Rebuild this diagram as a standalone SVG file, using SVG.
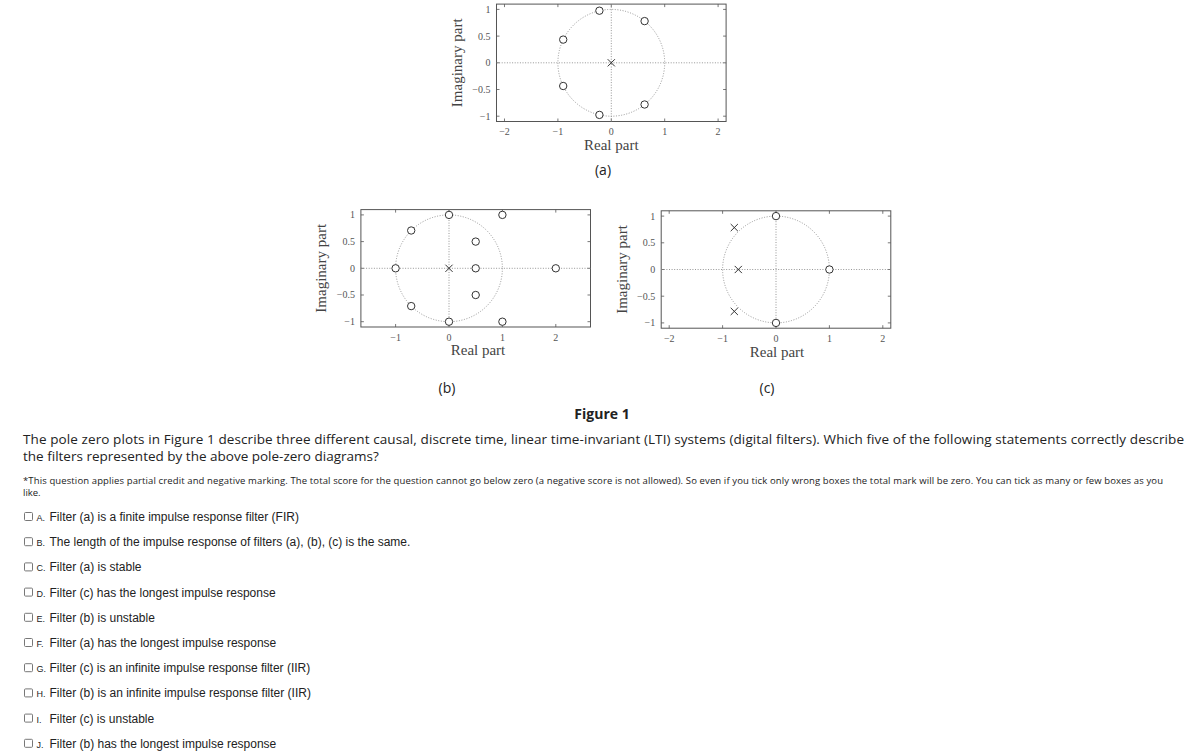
<svg xmlns="http://www.w3.org/2000/svg" width="1201" height="753" viewBox="0 0 1201 753">
<style>
.frame{fill:none;stroke:#555;stroke-width:1}
.tick{stroke:#555;stroke-width:0.8}
.grid{fill:none;stroke:#8a8a8a;stroke-width:0.9;stroke-dasharray:1 1.6}
.zero{fill:#fff;stroke:#333;stroke-width:1}
.pole{stroke:#333;stroke-width:1;fill:none}
.tl{font-family:"Liberation Serif",serif;font-size:10px;fill:#555}
.tly{font-family:"Liberation Serif",serif;font-size:10px;fill:#555;text-anchor:end}
.axl{font-family:"Liberation Serif",serif;font-size:15px;fill:#444;text-anchor:middle}
.cap{font-family:"Open Sans",sans-serif;font-size:14px;fill:#222;text-anchor:middle}
.fig{font-family:"Open Sans",sans-serif;font-size:14px;font-weight:bold;fill:#222;text-anchor:middle}
.para{font-family:"Open Sans",sans-serif;font-size:13.5px;fill:#222}
.small{font-family:"Open Sans",sans-serif;font-size:9.5px;fill:#222}
.opt{font-family:"Liberation Sans",Arial,sans-serif;font-size:12px;fill:#222}
.let{font-family:"Liberation Sans",Arial,sans-serif;font-size:9px;fill:#222}
.box{fill:#fff;stroke:#777;stroke-width:1}
</style>
<defs>
<circle id="z" r="3.7" class="zero"/>
<path id="p" d="M-3.6,-3.6L3.6,3.6M-3.6,3.6L3.6,-3.6" class="pole"/>
<g id="yt">
<text class="tly" x="-120.8" y="-49.9">1</text>
<text class="tly" x="-120.8" y="-23.2">0.5</text>
<text class="tly" x="-120.8" y="3.5">0</text>
<text class="tly" x="-120.8" y="30.2">−0.5</text>
<text class="tly" x="-120.8" y="56.9">−1</text>
</g>
</defs>
<rect width="1201" height="753" fill="#fff"/>

<g id="plot-a" transform="translate(611.3,62.8)">
<rect class="frame" x="-114.8" y="-58.7" width="229.6" height="117.4"/>
<path class="tick" d="M-106.8,-58.7v3M-53.4,-58.7v3M0,-58.7v3M53.4,-58.7v3M106.8,-58.7v3M-106.8,58.7v-3M-53.4,58.7v-3M0,58.7v-3M53.4,58.7v-3M106.8,58.7v-3M-114.8,-53.4h3M-114.8,-26.7h3M-114.8,0h3M-114.8,26.7h3M-114.8,53.4h3M114.8,-53.4h-3M114.8,-26.7h-3M114.8,0h-3M114.8,26.7h-3M114.8,53.4h-3"/>
<circle class="grid" r="53.4"/>
<path class="grid" d="M-114.8,0H114.8M0,-58.7V58.7"/>
<use href="#z" x="33.3" y="-41.7"/>
<use href="#z" x="-11.9" y="-52.1"/>
<use href="#z" x="-48.1" y="-23.2"/>
<use href="#z" x="-48.1" y="23.2"/>
<use href="#z" x="-11.9" y="52.1"/>
<use href="#z" x="33.3" y="41.7"/>
<use href="#p"/>
<g text-anchor="middle">
<text class="tl" x="-106.8" y="72.5">−2</text>
<text class="tl" x="-53.4" y="72.5">−1</text>
<text class="tl" x="0" y="72.5">0</text>
<text class="tl" x="53.4" y="72.5">1</text>
<text class="tl" x="106.8" y="72.5">2</text>
</g>
<use href="#yt"/>
<text class="axl" x="0" y="87">Real part</text>
<text class="axl" transform="translate(-149.5,0) rotate(-90)">Imaginary part</text>
</g>

<g id="plot-b" transform="translate(449,268.3)">
<rect class="frame" x="-88.1" y="-58.7" width="229.6" height="117.4"/>
<path class="tick" d="M-53.4,-58.7v3M0,-58.7v3M53.4,-58.7v3M106.8,-58.7v3M-53.4,58.7v-3M0,58.7v-3M53.4,58.7v-3M106.8,58.7v-3M-88.1,-53.4h3M-88.1,-26.7h3M-88.1,0h3M-88.1,26.7h3M-88.1,53.4h3M141.5,-53.4h-3M141.5,-26.7h-3M141.5,0h-3M141.5,26.7h-3M141.5,53.4h-3"/>
<circle class="grid" r="53.4"/>
<path class="grid" d="M-88.1,0H141.5M0,-58.7V58.7"/>
<use href="#z" x="0" y="-53.4"/>
<use href="#z" x="53.4" y="-53.4"/>
<use href="#z" x="-37.8" y="-37.8"/>
<use href="#z" x="26.7" y="-26.7"/>
<use href="#z" x="-53.4" y="0"/>
<use href="#z" x="26.7" y="0"/>
<use href="#z" x="106.8" y="0"/>
<use href="#z" x="26.7" y="26.7"/>
<use href="#z" x="-37.8" y="37.8"/>
<use href="#z" x="0" y="53.4"/>
<use href="#z" x="53.4" y="53.4"/>
<use href="#p"/>
<g text-anchor="middle">
<text class="tl" x="-53.4" y="72.5">−1</text>
<text class="tl" x="0" y="72.5">0</text>
<text class="tl" x="53.4" y="72.5">1</text>
<text class="tl" x="106.8" y="72.5">2</text>
</g>
<use href="#yt" x="26.7"/>
<text class="axl" x="29" y="87">Real part</text>
<text class="axl" transform="translate(-122.8,0) rotate(-90)">Imaginary part</text>
</g>

<g id="plot-c" transform="translate(776,269.5)">
<rect class="frame" x="-114.8" y="-58.7" width="229.6" height="117.4"/>
<path class="tick" d="M-106.8,-58.7v3M-53.4,-58.7v3M0,-58.7v3M53.4,-58.7v3M106.8,-58.7v3M-106.8,58.7v-3M-53.4,58.7v-3M0,58.7v-3M53.4,58.7v-3M106.8,58.7v-3M-114.8,-53.4h3M-114.8,-26.7h3M-114.8,0h3M-114.8,26.7h3M-114.8,53.4h3M114.8,-53.4h-3M114.8,-26.7h-3M114.8,0h-3M114.8,26.7h-3M114.8,53.4h-3"/>
<circle class="grid" r="53.4"/>
<path class="grid" d="M-114.8,0H114.8M0,-58.7V58.7"/>
<use href="#z" x="0" y="-53.4"/>
<use href="#z" x="53.4" y="0"/>
<use href="#z" x="0" y="53.4"/>
<use href="#p" x="-41.7" y="-41.9"/>
<use href="#p" x="-37.7" y="0"/>
<use href="#p" x="-41.7" y="41.9"/>
<g text-anchor="middle">
<text class="tl" x="-106.8" y="72.5">−2</text>
<text class="tl" x="-53.4" y="72.5">−1</text>
<text class="tl" x="0" y="72.5">0</text>
<text class="tl" x="53.4" y="72.5">1</text>
<text class="tl" x="106.8" y="72.5">2</text>
</g>
<use href="#yt"/>
<text class="axl" x="1" y="87">Real part</text>
<text class="axl" transform="translate(-149.5,0) rotate(-90)">Imaginary part</text>
</g>

<g id="captions">
<text class="cap" x="603" y="175">(a)</text>
<text class="cap" x="447" y="393">(b)</text>
<text class="cap" x="767" y="393">(c)</text>
<text class="fig" x="602" y="419">Figure 1</text>
</g>

<g id="question">
<text class="para" x="23" y="444" textLength="1161" lengthAdjust="spacing">The pole zero plots in Figure 1 describe three different causal, discrete time, linear time-invariant (LTI) systems (digital filters). Which five of the following statements correctly describe</text>
<text class="para" x="23" y="460.5">the filters represented by the above pole-zero diagrams?</text>
<text class="small" x="23" y="483.5" textLength="1140" lengthAdjust="spacing">*This question applies partial credit and negative marking. The total score for the question cannot go below zero (a negative score is not allowed). So even if you tick only wrong boxes the total mark will be zero. You can tick as many or few boxes as you</text>
<text class="small" x="23" y="495.5">like.</text>
</g>

<g id="options">
<rect class="box" x="24.5" y="512.5" width="8" height="8" rx="1"/><text class="let" x="36.5" y="521">A.</text><text class="opt" x="49.5" y="521">Filter (a) is a finite impulse response filter (FIR)</text>
<rect class="box" x="24.5" y="537.7" width="8" height="8" rx="1"/><text class="let" x="36.5" y="546.2">B.</text><text class="opt" x="49.5" y="546.2">The length of the impulse response of filters (a), (b), (c) is the same.</text>
<rect class="box" x="24.5" y="562.9" width="8" height="8" rx="1"/><text class="let" x="36.5" y="571.4">C.</text><text class="opt" x="49.5" y="571.4">Filter (a) is stable</text>
<rect class="box" x="24.5" y="588.1" width="8" height="8" rx="1"/><text class="let" x="36.5" y="596.6">D.</text><text class="opt" x="49.5" y="596.6">Filter (c) has the longest impulse response</text>
<rect class="box" x="24.5" y="613.3" width="8" height="8" rx="1"/><text class="let" x="36.5" y="621.8">E.</text><text class="opt" x="49.5" y="621.8">Filter (b) is unstable</text>
<rect class="box" x="24.5" y="638.5" width="8" height="8" rx="1"/><text class="let" x="36.5" y="647">F.</text><text class="opt" x="49.5" y="647">Filter (a) has the longest impulse response</text>
<rect class="box" x="24.5" y="663.7" width="8" height="8" rx="1"/><text class="let" x="36.5" y="672.2">G.</text><text class="opt" x="49.5" y="672.2">Filter (c) is an infinite impulse response filter (IIR)</text>
<rect class="box" x="24.5" y="688.9" width="8" height="8" rx="1"/><text class="let" x="36.5" y="697.4">H.</text><text class="opt" x="49.5" y="697.4">Filter (b) is an infinite impulse response filter (IIR)</text>
<rect class="box" x="24.5" y="714.1" width="8" height="8" rx="1"/><text class="let" x="36.5" y="722.6">I.</text><text class="opt" x="49.5" y="722.6">Filter (c) is unstable</text>
<rect class="box" x="24.5" y="739.3" width="8" height="8" rx="1"/><text class="let" x="36.5" y="747.8">J.</text><text class="opt" x="49.5" y="747.8">Filter (b) has the longest impulse response</text>
</g>
<g id="connectors"/>
</svg>
